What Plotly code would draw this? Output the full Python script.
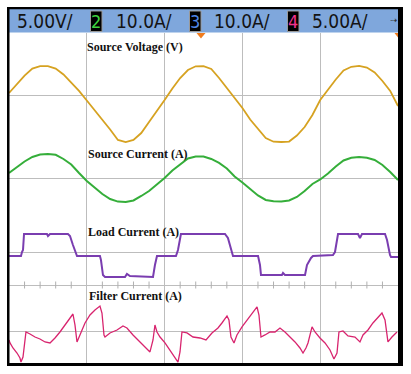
import plotly.graph_objects as go

W, H = 411, 374

# ---------------- data (time in ms, values in channel units) ----------------
t_voltage = list(range(0, 51))
source_voltage = [1.33, 2.42, 3.45, 4.30, 4.58, 4.58, 4.30, 3.58, 2.61, 1.58,
                  0.42, -0.73, -1.82, -3.09, -4.36, -4.61, -4.36, -3.52, -2.18, -0.91,
                  0.48, 1.88, 3.15, 4.12, 4.57, 4.58, 4.24, 3.15, 1.94, 0.79,
                  -0.48, -1.88, -3.03, -4.12, -4.57, -4.61, -4.55, -3.82, -2.79, -1.33,
                  0.48, 1.76, 2.97, 4.06, 4.51, 4.61, 4.42, 3.82, 2.79, 1.58,
                  -0.24]

t_source_current = list(range(0, 51))
source_current = [1.21, 2.67, 4.00, 5.09, 5.70, 5.82, 5.62, 4.61, 3.27, 1.21,
                  -0.73, -2.30, -3.88, -5.09, -5.72, -5.82, -5.45, -4.36, -3.15, -1.58,
                  0.0, 1.82, 3.39, 4.73, 5.21, 5.21, 4.61, 3.64, 2.30, 0.36,
                  -1.09, -2.67, -4.24, -5.33, -5.65, -5.70, -5.45, -4.61, -3.15, -1.45,
                  -0.36, 1.09, 2.79, 4.24, 4.92, 5.09, 4.90, 4.36, 3.15, 1.45,
                  -0.48]

t_load_current = [0, 1.54, 1.67, 1.80, 1.93, 4.88, 5.01, 5.27, 7.58, 7.84,
                  8.22, 8.74, 11.69, 11.82, 12.08, 12.34, 14.91, 15.16, 15.55, 18.51,
                  18.76, 19.02, 21.46, 21.72, 22.10, 27.76, 28.14, 28.40, 28.79, 32.01,
                  32.26, 32.39, 35.08, 35.22, 35.47, 38.05, 38.30, 38.82, 39.07, 41.64,
                  41.90, 42.29, 44.86, 45.11, 45.37, 48.33, 48.59, 48.97, 49.10, 50.0]
load_current = [0, 0, 0.97, 1.45, 5.33, 5.33, 4.85, 5.33, 5.33, 4.85,
                2.67, 0, 0, -0.97, -4.61, -5.09, -5.09, -4.36, -4.85, -5.09,
                -2.18, 0, 0, 1.45, 5.33, 5.33, 4.36, 2.67, 0, 0,
                -2.18, -4.61, -4.61, -4.12, -4.61, -4.61, -2.18, -0.48, 0, 0.24,
                0.97, 5.33, 5.33, 4.36, 5.33, 5.33, 3.88, 0.24, -0.24, -0.24]

t_filter_current = [0, 0.13, 0.51, 1.03, 1.41, 1.54, 1.80, 2.18, 2.70, 3.34,
                    3.98, 4.63, 5.27, 5.91, 6.55, 7.20, 7.84, 8.22, 8.48, 8.74,
                    9.12, 9.77, 10.41, 11.05, 11.69, 11.95, 12.21, 12.34, 12.98, 13.88,
                    14.65, 15.16, 15.94, 16.84, 17.73, 18.12, 18.51, 18.76, 19.02, 19.41,
                    20.05, 20.69, 21.34, 21.72, 21.98, 22.23, 22.88, 23.65, 24.55, 25.32,
                    26.09, 26.86, 27.37, 27.76, 28.02, 28.27, 28.53, 28.92, 29.30, 29.95,
                    30.59, 31.23, 31.88, 32.13, 32.39, 32.90, 33.55, 34.19, 34.83, 35.47,
                    36.12, 36.76, 37.40, 37.79, 38.17, 38.43, 38.95, 39.33, 39.97, 40.62,
                    41.26, 41.77, 42.16, 42.41, 42.93, 43.57, 44.47, 45.11, 45.50, 46.14,
                    46.78, 47.43, 47.94, 48.33, 48.59, 48.71, 49.22, 49.87]
filter_current = [-0.97, -1.33, -1.94, -2.55, -3.15, -3.64, -3.03, 0, -0.24, -0.61,
                  -0.85, -1.21, -1.33, -0.73, 0, 0.85, 1.70, 2.18, 0.85, -1.21,
                  -0.36, 1.09, 2.06, 2.67, 3.15, 2.30, -0.36, -0.61, -0.12, 0.24,
                  0.73, 0.48, -0.36, -1.21, -1.94, -2.42, -0.97, 0.85, 0, -0.61,
                  -1.33, -2.18, -3.03, -3.64, -2.42, 0, -0.12, -0.61, -0.73, -0.97,
                  -0.12, 0.48, 1.09, 1.70, 1.94, 1.45, -0.61, -1.33, -0.36, 0.61,
                  1.45, 2.30, 3.03, 2.06, -0.61, -0.36, 0, 0, 0.48, 0,
                  -0.61, -1.21, -1.94, -2.55, -1.94, -1.33, 0.61, 0, -0.73, -1.33,
                  -2.18, -3.27, -2.55, 0, 0.12, -0.48, -0.61, -1.21, -0.36, 0.24,
                  1.09, 1.82, 2.30, 1.45, -0.97, -1.21, -0.61, 0]

channel_labels = ["Source Voltage (V)", "Source Current (A)", "Load Current (A)", "Filter Current (A)"]
scale_labels = ["5.00V/", "10.0A/", "10.0A/", "5.00A/"]
channel_numbers = ["2", "3", "4"]

# scope channel settings: units/div and ground offset in divisions from centre
ch_scale = [5.0, 10.0, 10.0, 5.0]
ch_offset = [2.279, 0.485, -1.406, -3.248]
colors = ["#D6A221", "#35AE3A", "#7A3DB0", "#D8246E"]
widths = [1.8, 2.0, 2.0, 1.3]

grid_levels = [2.473, 0.461, -1.333, -2.109, -3.248]   # horizontal grid lines (divisions)
minor_ticks_t = [2, 4, 6, 8, 12, 14, 16, 18, 22, 24, 26, 28, 32, 34, 36, 38, 42, 44, 46, 48]


def px(x):
    return x / W


def py(y):
    return (H - y) / H


fig = go.Figure()

series = [(t_voltage, source_voltage), (t_source_current, source_current),
          (t_load_current, load_current), (t_filter_current, filter_current)]
for i, (tt, vv) in enumerate(series):
    fig.add_trace(go.Scatter(x=tt, y=vv, mode="lines", yaxis="y%d" % (i + 2),
                             line=dict(color=colors[i], width=widths[i]),
                             showlegend=False, hoverinfo="skip"))

# minor ticks on the centre axis
fig.add_trace(go.Scatter(x=minor_ticks_t, y=[grid_levels[3]] * len(minor_ticks_t),
                         mode="markers", yaxis="y",
                         marker=dict(symbol="line-ns", size=5,
                                     line=dict(color="#B0B0B0", width=1)),
                         showlegend=False, hoverinfo="skip"))

layout_axes = {}
for i in range(4):
    lo = (-4 - ch_offset[i]) * ch_scale[i]
    hi = (4 - ch_offset[i]) * ch_scale[i]
    layout_axes["yaxis%d" % (i + 2)] = dict(overlaying="y", range=[lo, hi], visible=False,
                                            fixedrange=True)

shapes = []
# header bar
shapes.append(dict(type="rect", xref="paper", yref="paper", x0=px(9), x1=px(398),
                   y0=py(32.5), y1=py(9), fillcolor="#7FA7DC", line=dict(width=0), layer="above"))
# channel number boxes
for xb in [90.5, 189.5, 287.5]:
    shapes.append(dict(type="rect", xref="paper", yref="paper", x0=px(xb), x1=px(xb + 11.5),
                       y0=py(31.5), y1=py(11), fillcolor="#000000",
                       line=dict(color="#9A9A9A", width=1), layer="above"))
# black frame
frame = [(7, 9.5, 7, 366), (7, 403, 7, 9.3), (398, 403, 7, 366), (7, 403, 363, 366)]
for x0, x1, y0, y1 in frame:
    shapes.append(dict(type="rect", xref="paper", yref="paper", x0=px(x0), x1=px(x1),
                       y0=py(y1), y1=py(y0), fillcolor="#000000", line=dict(width=0), layer="above"))
# trigger markers
shapes.append(dict(type="path", xref="paper", yref="paper",
                   path="M %f,%f L %f,%f L %f,%f Z" % (px(196.5), py(33), px(205.5), py(33), px(201), py(38.5)),
                   fillcolor="#F07C1E", line=dict(width=0), layer="above"))
shapes.append(dict(type="path", xref="paper", yref="paper",
                   path="M %f,%f L %f,%f L %f,%f Z" % (px(398), py(33), px(398), py(37.5), px(394.5), py(33)),
                   fillcolor="#F07C1E", line=dict(width=0), layer="above"))

annotations = []
hdr_font = "Liberation Sans Narrow, DejaVu Sans Condensed, Liberation Sans, Arial"
for xc, txt in zip([44.5, 144, 242, 339.5], scale_labels):
    annotations.append(dict(x=px(xc), y=py(20.5), xref="paper", yref="paper", text=txt,
                            showarrow=False, xanchor="center", yanchor="middle",
                            font=dict(family=hdr_font, size=19, color="#141414")))
for xc, txt, col in zip([96.3, 195.3, 293.3], channel_numbers, ["#3FD23F", "#4F86E6", "#F0328C"]):
    annotations.append(dict(x=px(xc), y=py(21), xref="paper", yref="paper", text=txt,
                            showarrow=False, xanchor="center", yanchor="middle",
                            font=dict(family=hdr_font, size=18, color=col)))
annotations.append(dict(x=px(394), y=py(20), xref="paper", yref="paper", text="⇢",
                        showarrow=False, xanchor="center", yanchor="middle",
                        font=dict(family="DejaVu Sans", size=9, color="#333333")))

for (xl, yl), txt in zip([(85, 47), (86, 154), (86, 232), (87, 296)], channel_labels):
    annotations.append(dict(x=px(xl), y=py(yl), xref="paper", yref="paper", text="<b>%s</b>" % txt,
                            showarrow=False, xanchor="left", yanchor="middle",
                            font=dict(family="Liberation Serif, Times New Roman, serif", size=12,
                                      color="#111111")))

fig.update_layout(
    width=W, height=H,
    margin=dict(l=0, r=0, t=0, b=0),
    paper_bgcolor="#FFFFFF", plot_bgcolor="#FFFFFF",
    showlegend=False,
    xaxis=dict(domain=[px(9), px(398)], range=[0, 50], tick0=0, dtick=10,
               showgrid=True, gridcolor="#BDBDBD", gridwidth=1, zeroline=False,
               showticklabels=False, ticks="", showline=False, fixedrange=True),
    yaxis=dict(domain=[py(363), py(33)], range=[-4, 4], tickmode="array", tickvals=grid_levels,
               showgrid=True, gridcolor="#BDBDBD", gridwidth=1, zeroline=False,
               showticklabels=False, ticks="", showline=False, fixedrange=True),
    shapes=shapes,
    annotations=annotations,
    **layout_axes,
)

fig.write_html("out.html", config={"displayModeBar": False},
               post_script="document.body.style.margin='0';document.body.style.overflow='hidden';")
